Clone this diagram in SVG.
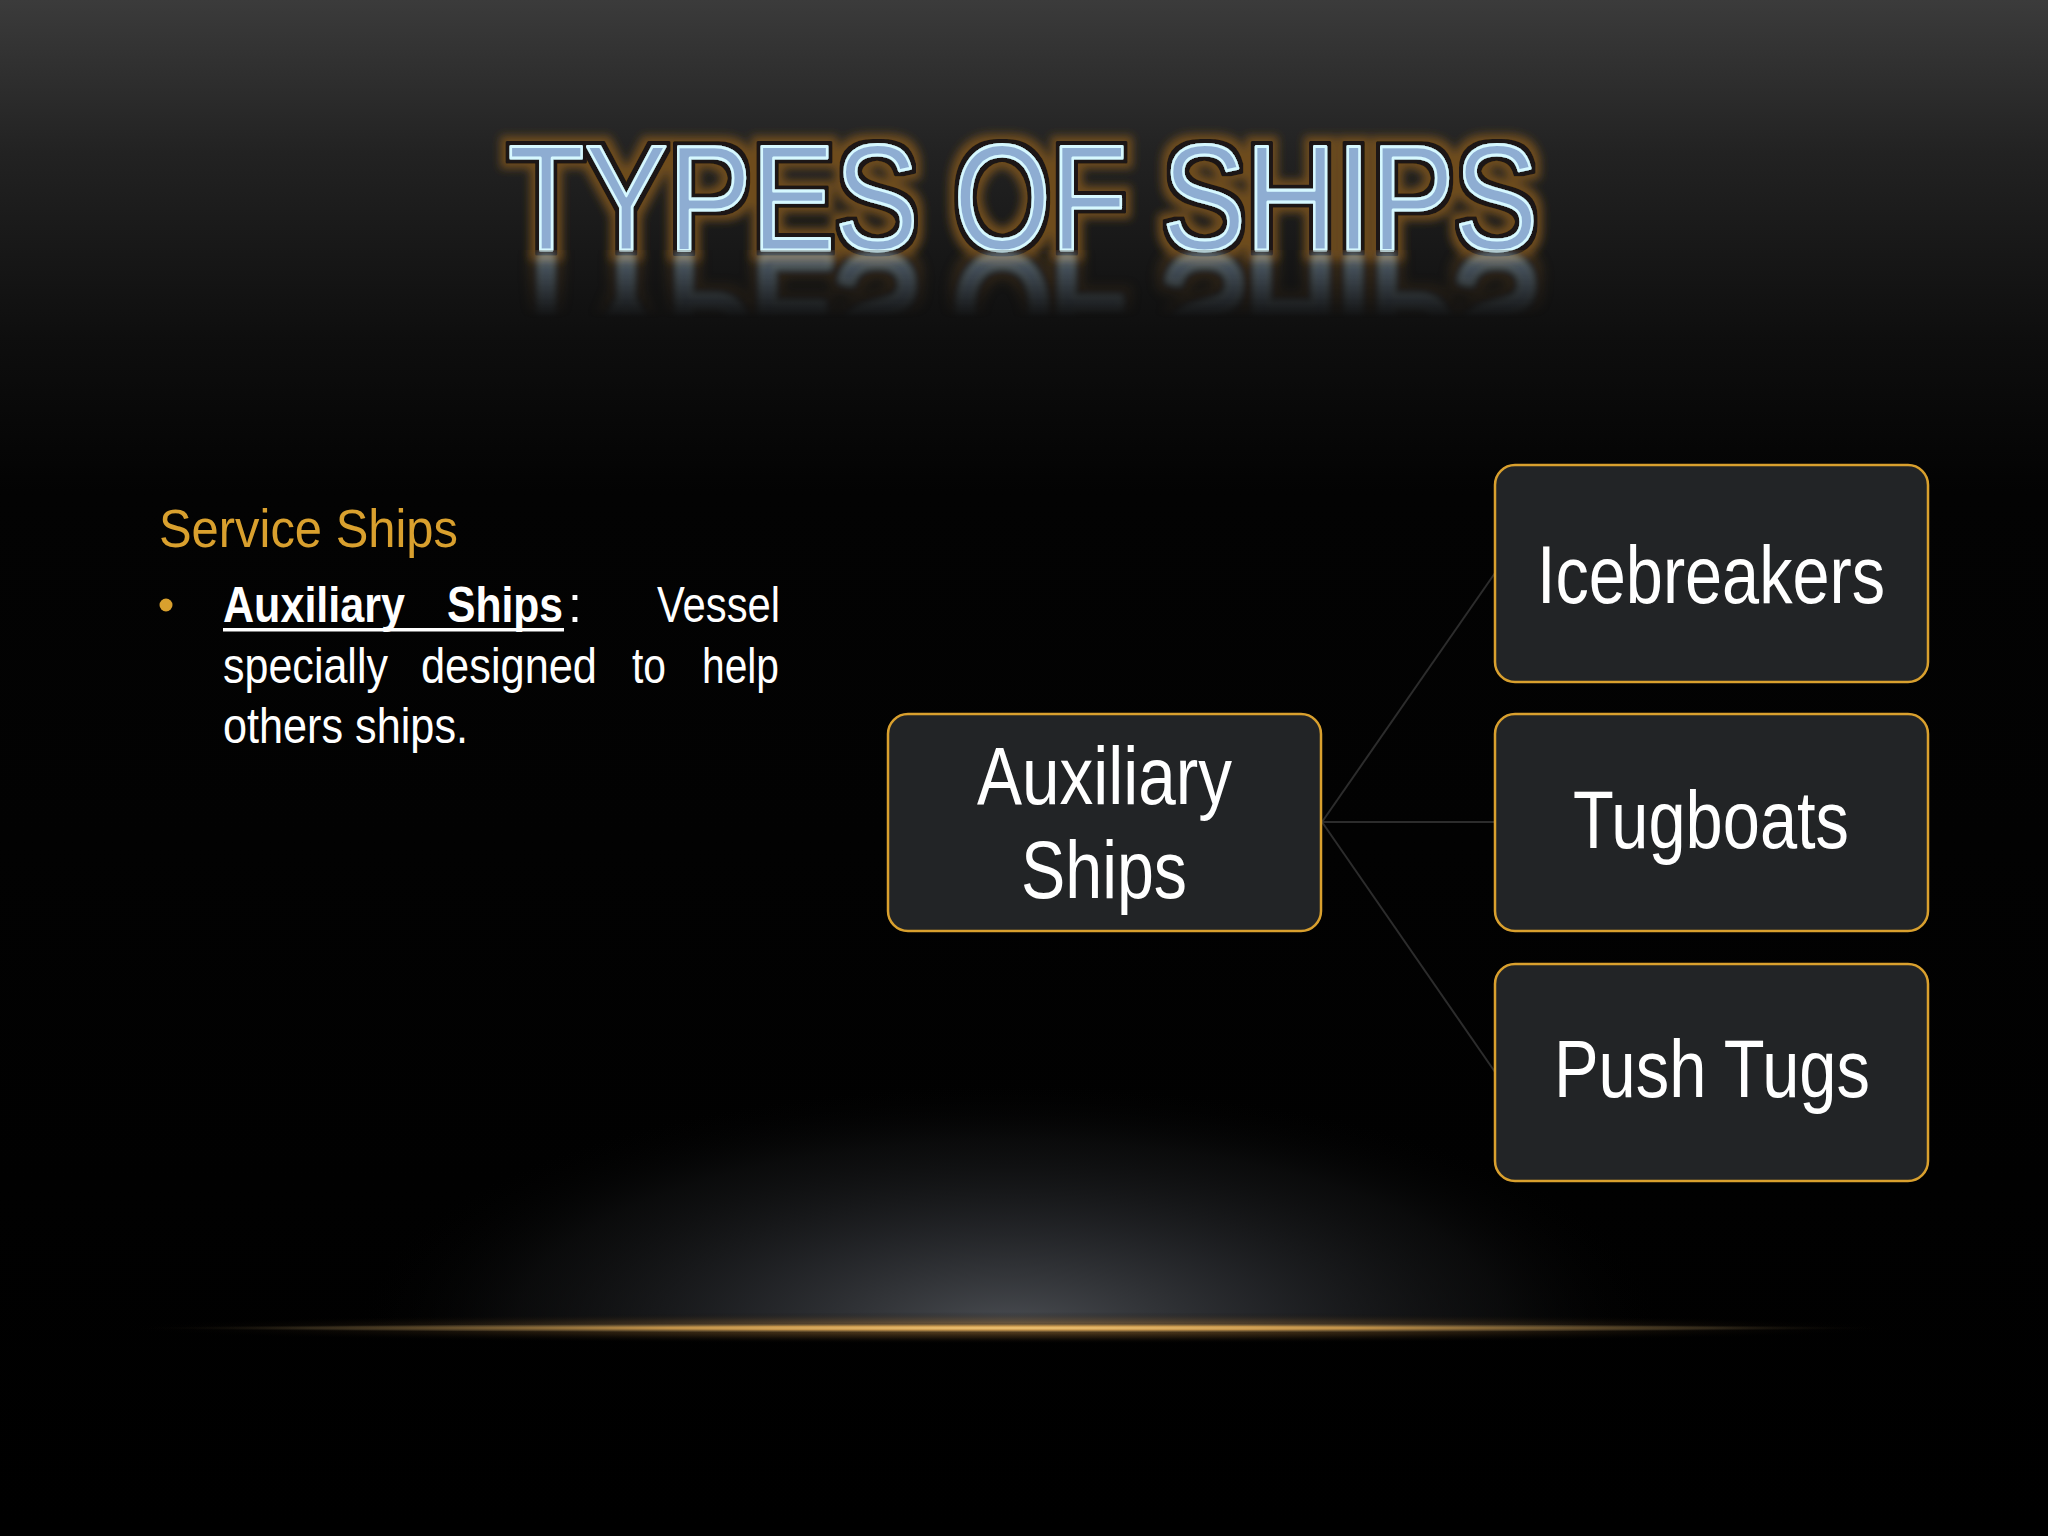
<svg xmlns="http://www.w3.org/2000/svg" xmlns:xlink="http://www.w3.org/1999/xlink" width="2048" height="1536" viewBox="0 0 2048 1536">
<defs>
<linearGradient id="bg" x1="0" y1="0" x2="0" y2="1">
<stop offset="0" stop-color="#3b3b3b"/>
<stop offset="0.1" stop-color="#222222"/>
<stop offset="0.22" stop-color="#0e0e0e"/>
<stop offset="0.32" stop-color="#030303"/>
<stop offset="1" stop-color="#000000"/>
</linearGradient>
<radialGradient id="haze" cx="0.5" cy="0.5" r="0.5">
<stop offset="0" stop-color="#4a4d52" stop-opacity="1"/>
<stop offset="0.4" stop-color="#2a2c30" stop-opacity="0.8"/>
<stop offset="0.75" stop-color="#141516" stop-opacity="0.5"/>
<stop offset="1" stop-color="#000" stop-opacity="0"/>
</radialGradient>
<radialGradient id="gold" cx="0.5" cy="0.5" r="0.5">
<stop offset="0" stop-color="#f4c878"/>
<stop offset="0.4" stop-color="#cf9c4e" stop-opacity="0.9"/>
<stop offset="0.8" stop-color="#6a5838" stop-opacity="0.4"/>
<stop offset="1" stop-color="#000" stop-opacity="0"/>
</radialGradient>
<radialGradient id="goldglow" cx="0.5" cy="0.5" r="0.5">
<stop offset="0" stop-color="#b08040" stop-opacity="0.8"/>
<stop offset="0.6" stop-color="#5a4020" stop-opacity="0.35"/>
<stop offset="1" stop-color="#000" stop-opacity="0"/>
</radialGradient>
<linearGradient id="fade" x1="0" y1="254" x2="0" y2="318" gradientUnits="userSpaceOnUse">
<stop offset="0" stop-color="#fff" stop-opacity="0.45"/>
<stop offset="1" stop-color="#fff" stop-opacity="0"/>
</linearGradient>
<mask id="reflmask" maskUnits="userSpaceOnUse" x="0" y="250" width="2048" height="80">
<rect x="0" y="250" width="2048" height="80" fill="url(#fade)"/>
</mask>
<filter id="titlefx" x="-5%" y="-40%" width="110%" height="180%">
<feMorphology in="SourceAlpha" operator="dilate" radius="9" result="big"/>
<feGaussianBlur in="big" stdDeviation="4" result="bigb"/>
<feFlood flood-color="#6e4c1e" result="brown"/>
<feComposite in="brown" in2="bigb" operator="in" result="glow"/>
<feMorphology in="SourceAlpha" operator="dilate" radius="4" result="mid"/>
<feFlood flood-color="#1a1814" result="dark"/>
<feComposite in="dark" in2="mid" operator="in" result="outline"/>
<feMerge>
<feMergeNode in="glow"/>
<feMergeNode in="outline"/>
<feMergeNode in="SourceGraphic"/>
</feMerge>
</filter>
<filter id="soft" x="-5%" y="-40%" width="110%" height="180%">
<feGaussianBlur stdDeviation="3"/>
</filter>
<clipPath id="above">
<rect x="0" y="0" width="2048" height="1328"/>
</clipPath>
<style>
.title{font-family:"Liberation Sans",Arial,sans-serif;font-size:150px;fill:#8eadd2;stroke:#d6f8ff;stroke-width:3;stroke-linejoin:round;}
.node rect{fill:#222426;stroke:#d9a02e;stroke-width:2.5;}
.node text{font-family:"Liberation Sans Narrow","Liberation Sans",Arial,sans-serif;font-size:82px;fill:#ffffff;}
.body{font-family:"Liberation Sans Narrow","Liberation Sans",Arial,sans-serif;font-size:50px;fill:#ffffff;}
.conn line{stroke:#2c2c2c;stroke-width:2;}
</style>
</defs>

<rect x="0" y="0" width="2048" height="1536" fill="url(#bg)"/>

<g id="floor-glow">
<g clip-path="url(#above)">
<ellipse cx="1010" cy="1328" rx="660" ry="250" fill="url(#haze)"/>
</g>
<ellipse cx="1010" cy="1328" rx="900" ry="16" fill="url(#goldglow)"/>
<ellipse cx="1010" cy="1328" rx="880" ry="5" fill="url(#gold)"/>
</g>

<g id="title">
<text id="titletext" class="title" x="508" y="250" textLength="1030" lengthAdjust="spacingAndGlyphs" filter="url(#titlefx)">TYPES OF SHIPS</text>
<g mask="url(#reflmask)">
<use xlink:href="#titletext" href="#titletext" transform="translate(0,506) scale(1,-1)" filter="url(#soft)"/>
</g>
</g>

<g id="text-block">
<text x="159" y="547" textLength="299" lengthAdjust="spacingAndGlyphs" font-family="'Liberation Sans Narrow','Liberation Sans',Arial,sans-serif" font-size="54" fill="#d9a02e">Service Ships</text>
<circle cx="166" cy="605" r="6.5" fill="#d9a02e"/>
<text class="body" x="223" y="622" font-weight="bold" textLength="182" lengthAdjust="spacingAndGlyphs">Auxiliary</text>
<text class="body" transform="translate(447,622) scale(0.8,1)" x="0" y="0" font-weight="bold" textLength="145" lengthAdjust="spacingAndGlyphs">Ships</text>
<rect x="223" y="628" width="341" height="3.5" fill="#ffffff"/>
<text class="body" x="568" y="622">:</text>
<text class="body" x="657" y="622" textLength="123" lengthAdjust="spacingAndGlyphs">Vessel</text>
<text class="body" x="223" y="683" textLength="165" lengthAdjust="spacingAndGlyphs">specially</text>
<text class="body" x="421" y="683" textLength="176" lengthAdjust="spacingAndGlyphs">designed</text>
<text class="body" x="632" y="683" textLength="34" lengthAdjust="spacingAndGlyphs">to</text>
<text class="body" x="702" y="683" textLength="77" lengthAdjust="spacingAndGlyphs">help</text>
<text class="body" x="223" y="743" textLength="245" lengthAdjust="spacingAndGlyphs">others ships.</text>
</g>

<g id="connectors" class="conn">
<line x1="1322" y1="822" x2="1495" y2="573"/>
<line x1="1322" y1="822" x2="1495" y2="822"/>
<line x1="1322" y1="822" x2="1495" y2="1072"/>
</g>

<g id="node-auxiliary" class="node">
<rect x="888" y="714" width="433" height="217" rx="20"/>
<text x="977" y="804" textLength="255" lengthAdjust="spacingAndGlyphs">Auxiliary</text>
<text x="1021" y="898" textLength="166" lengthAdjust="spacingAndGlyphs">Ships</text>
</g>

<g id="node-icebreakers" class="node">
<rect x="1495" y="465" width="433" height="217" rx="20"/>
<text x="1537" y="603" textLength="348" lengthAdjust="spacingAndGlyphs">Icebreakers</text>
</g>

<g id="node-tugboats" class="node">
<rect x="1495" y="714" width="433" height="217" rx="20"/>
<text x="1573" y="848" textLength="276" lengthAdjust="spacingAndGlyphs">Tugboats</text>
</g>

<g id="node-pushtugs" class="node">
<rect x="1495" y="964" width="433" height="217" rx="20"/>
<text x="1554" y="1097" textLength="316" lengthAdjust="spacingAndGlyphs">Push Tugs</text>
</g>
</svg>
